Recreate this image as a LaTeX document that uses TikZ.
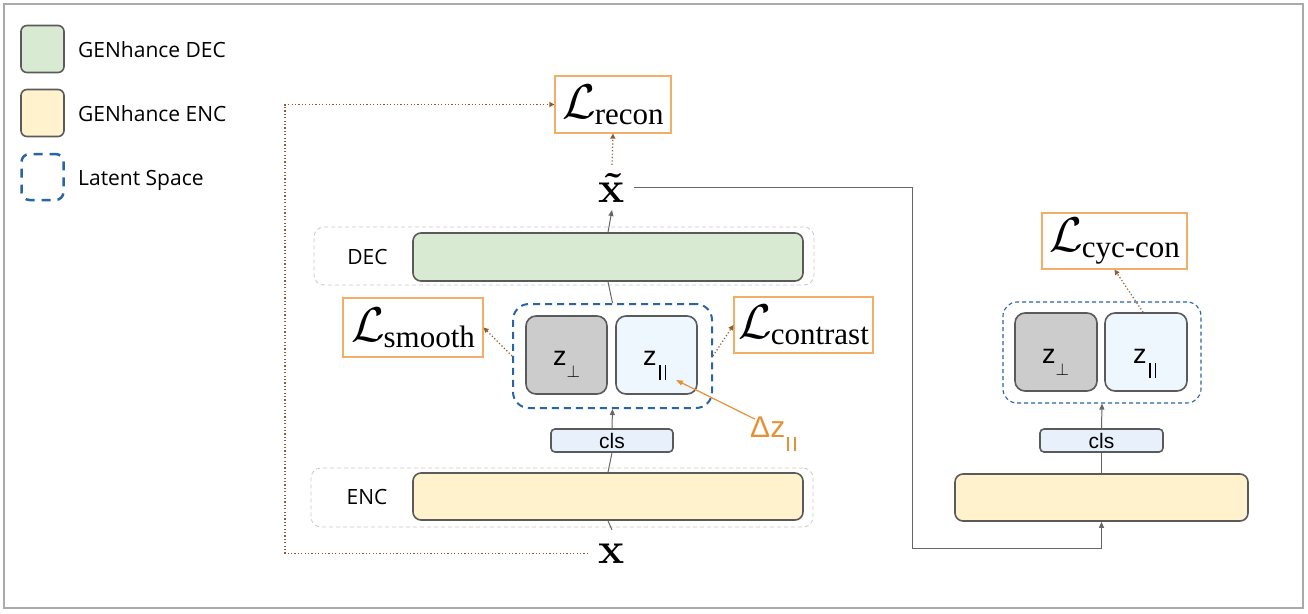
\documentclass[tikz,border=0pt]{standalone}
\usepackage{amsmath}
\usepackage{graphicx}
\usepackage{fontspec}
\usetikzlibrary{arrows.meta}
\newfontfamily\osans{Open Sans}
\newfontfamily\arialf{Liberation Sans}
\newfontfamily\timesf{Liberation Serif}
\definecolor{frameC}{HTML}{AAAAAA}
\definecolor{lineC}{HTML}{666666}
\definecolor{boxB}{HTML}{5A5A5A}
\definecolor{decF}{HTML}{D9EAD3}
\definecolor{encF}{HTML}{FFF2CC}
\definecolor{zpF}{HTML}{CCCCCC}
\definecolor{zqF}{HTML}{EEF6FE}
\definecolor{clsF}{HTML}{E8F1FB}
\definecolor{blueD}{HTML}{2A64A3}
\definecolor{orB}{HTML}{F2AE66}
\definecolor{orT}{HTML}{E69138}
\definecolor{brownD}{HTML}{8B5E34}
\definecolor{contC}{HTML}{C8C8C8}
\newcommand{\lossL}[1]{\scalebox{2.35}{\fontsize{20}{20}\selectfont$\mathcal{L}$}\kern-1pt\raisebox{-6pt}{\timesf\fontsize{31}{31}\selectfont #1}}
\newcommand{\zperpT}{{\arialf\fontsize{27}{27}\selectfont z\raisebox{-12pt}{\fontsize{18}{18}\selectfont$\perp$}}}
\newcommand{\parbars}[2]{\raisebox{-#1}{\rule{1.8pt}{#1}\hspace{#2}\rule{1.8pt}{#1}}}
\newcommand{\zparT}{{\arialf\fontsize{27}{27}\selectfont z\hspace{2pt}\parbars{15pt}{4pt}}}
\tikzset{
  blk/.style={draw=boxB, line width=1.6pt, rounded corners=8pt, inner sep=0pt},
  cont/.style={draw=contC, dash pattern=on 4pt off 3pt, line width=0.8pt, rounded corners=10pt, inner sep=0pt},
  lossbox/.style={draw=orB, line width=1.2pt, inner sep=0pt, fill=white},
  latbox/.style={draw=blueD, dash pattern=on 7pt off 5pt, line width=2pt, rounded corners=16pt, inner sep=0pt},
  latboxthin/.style={draw=blueD, dash pattern=on 4pt off 3pt, line width=1.1pt, rounded corners=14pt, inner sep=0pt},
  flow/.style={draw=lineC, line width=1pt},
  flowarr/.style={flow, -{Triangle[length=6pt,width=5pt]}},
  dotarr/.style={draw=brownD, line width=1.2pt, dash pattern=on 1.2pt off 2.2pt, -{Triangle[length=5pt,width=5pt]}},
  leg/.style={anchor=base west, inner sep=0pt, font=\osans\fontsize{21}{21}\selectfont},
  lab/.style={anchor=base, inner sep=0pt, font=\osans\fontsize{21}{21}\selectfont},
  clsbox/.style={blk, fill=clsF, rounded corners=4pt, font=\arialf\fontsize{21}{21}\selectfont},
  bigx/.style={anchor=base, inner sep=0pt, font=\fontsize{44}{44}\selectfont\bfseries}
}
\begin{document}
\begin{tikzpicture}[x=1pt,y=-1pt]
\useasboundingbox (0,0) rectangle (1308,613);
\draw[frameC, line width=2pt] (4,4) rectangle (1303,608);

% legend
\node[blk, fill=decF, minimum width=43pt, minimum height=47pt, rounded corners=6pt] (legdec) at (42.5,49) {};
\node[leg] (legdect) at (78,57) {GENhance DEC};
\node[blk, fill=encF, minimum width=43pt, minimum height=47pt, rounded corners=6pt] (legenc) at (42.5,113) {};
\node[leg] (legenct) at (78,121) {GENhance ENC};
\node[draw=blueD, line width=2.5pt, dash pattern=on 9pt off 7pt, dash phase=3pt, rounded corners=8pt, minimum width=42pt, minimum height=46pt] (leglat) at (42.5,177) {};
\node[leg] (leglatt) at (78,185) {Latent Space};

% main left column
\node[cont, minimum width=500pt, minimum height=58pt] (decC) at (564,256) {};
\node[blk, fill=decF, minimum width=390pt, minimum height=48pt] (decbar) at (608,257) {};
\node[lab] (declab) at (367.5,264) {DEC};
\node[cont, minimum width=502pt, minimum height=59pt] (encC) at (562,497.5) {};
\node[blk, fill=encF, minimum width=390pt, minimum height=47pt] (encbar) at (608,496.5) {};
\node[lab] (enclab) at (367,504) {ENC};
\node[clsbox, minimum width=122pt, minimum height=23pt] (cls) at (612,440.5) {cls};
\node[latbox, minimum width=199pt, minimum height=104pt] (latent) at (612.5,356) {};
\node[blk, fill=zpF, minimum width=81pt, minimum height=78pt, rounded corners=10pt] (zperp) at (566.5,355) {};
\node[blk, fill=zqF, minimum width=81pt, minimum height=78pt, rounded corners=10pt] (zpar) at (656.5,355) {};
\node[anchor=base west, inner sep=0pt] (zperpt) at (553,365) {\zperpT};
\node[anchor=base west, inner sep=0pt] (zpart) at (643,365) {\zparT};
\node[lossbox, minimum width=140pt, minimum height=59pt] (Lsmooth) at (413,327.5) {\lossL{smooth}};
\node[lossbox, minimum width=139pt, minimum height=56pt] (Lcontrast) at (803.5,325) {\lossL{contrast}};
\node[lossbox, minimum width=116pt, minimum height=57pt] (Lrecon) at (613,104.5) {\lossL{recon}};
\node[bigx, outer xsep=9pt, outer ysep=8pt] (xt) at (612,202) {\~x};
\node[bigx, outer xsep=11pt, outer ysep=13.5pt] (xx) at (612,563) {x};
\node[anchor=base west, inner sep=0pt, text=orT] (dz) at (750,437) {\arialf\fontsize{30}{30}\selectfont Δz\hspace{2pt}\parbars{14pt}{5pt}};

% right column
\node[lossbox, minimum width=145pt, minimum height=56pt] (Lcyc) at (1114.5,241) {\lossL{cyc-con}};
\node[latboxthin, minimum width=198pt, minimum height=101pt] (latR) at (1102,352.5) {};
\node[blk, fill=zpF, minimum width=82pt, minimum height=78pt, rounded corners=10pt] (zperpR) at (1056,352) {};
\node[blk, fill=zqF, minimum width=82pt, minimum height=78pt, rounded corners=10pt] (zparR) at (1146,352) {};
\node[anchor=base west, inner sep=0pt] (zperpRt) at (1042,363) {\zperpT};
\node[anchor=base west, inner sep=0pt] (zparRt) at (1133,363) {\zparT};
\node[clsbox, minimum width=123pt, minimum height=23pt] (clsR) at (1101.5,440.5) {cls};
\node[blk, fill=encF, minimum width=293pt, minimum height=47pt] (encR) at (1101.5,497.5) {};

% connectors main
\draw[flow] (xx.north) -- (encbar.south);
\draw[flow] (encbar.north) -- (cls.south);
\draw[flowarr] (cls.north) -- (latent.south);
\draw[flow] (latent.north) -- (decbar.south);
\draw[flowarr] (decbar.north) -- (xt.south);

\coordinate (cA) at (912,548);
\draw[flowarr] (xt.east) -| (cA) -| (encR.south);
\draw[flow] (encR.north) -- (clsR.south);
\draw[flowarr] (clsR.north) -- (latR.south);

% loss connectors
\coordinate (cB) at (285,104.5);
\draw[dotarr] (xx.west) -| (cB) -- (Lrecon.west);
\draw[dotarr] (xt.north) -- (Lrecon.south);
\draw[dotarr] (latent.west) -- (Lsmooth.east);
\draw[dotarr] (latent.east) -- (Lcontrast.west);
\draw[dotarr] ([xshift=-3pt]zparR.north) -- (Lcyc.south);
\coordinate (dzt) at (676,380);
\draw[draw=orT, line width=1.2pt, -{Triangle[length=7pt,width=5pt]}] ([xshift=5pt,yshift=-3pt]dz.north west) -- (dzt);
\end{tikzpicture}
\end{document}
